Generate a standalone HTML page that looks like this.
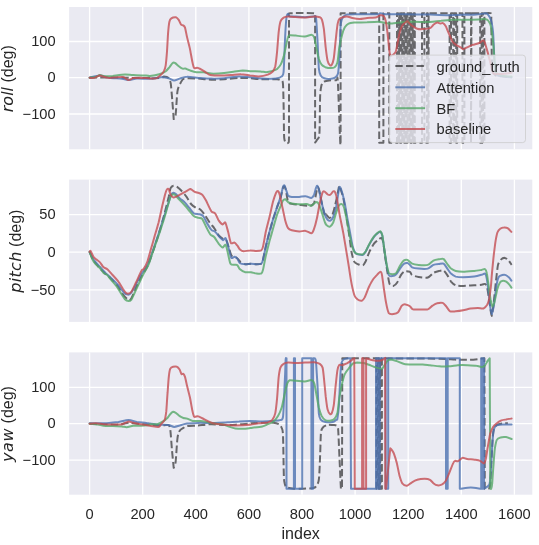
<!DOCTYPE html>
<html><head><meta charset="utf-8"><title>plot</title>
<style>
html,body{margin:0;padding:0;background:#fff}
svg text{font-family:"Liberation Sans",sans-serif;fill:#262626}
.t{font-size:14.67px}
.l{font-size:16px}
.m{font-family:"DejaVu Sans",sans-serif;font-style:italic}
</style></head><body>
<svg width="539" height="545" viewBox="0 0 539 545" style="display:block">
<rect width="539" height="545" fill="#fff"/>
<clipPath id="c0"><rect x="69.1" y="7.0" width="463.2" height="142.3"/></clipPath>
<rect x="69.1" y="7.0" width="463.2" height="142.3" fill="#EAEAF2"/>
<path d="M89.6,7.0 V149.3 M142.7,7.0 V149.3 M195.8,7.0 V149.3 M248.9,7.0 V149.3 M302.0,7.0 V149.3 M355.1,7.0 V149.3 M408.2,7.0 V149.3 M461.3,7.0 V149.3 M514.4,7.0 V149.3 M69.1,41.5 H532.3 M69.1,77.7 H532.3 M69.1,114.0 H532.3" stroke="#fff" stroke-width="1.33" fill="none"/>
<text x="55.6" y="46.25" text-anchor="end" class="t">100</text>
<text x="55.6" y="82.45" text-anchor="end" class="t">0</text>
<text x="55.6" y="118.75" text-anchor="end" class="t">−100</text>
<g clip-path="url(#c0)" fill="none" stroke-width="2.0" stroke-linejoin="round" stroke-linecap="butt">
<path d="M89.6,77.7 C91.4,77.7 99.5,77.4 103.6,77.4 C107.6,77.4 117.5,77.6 122.1,77.7 C126.7,77.8 137.2,78.1 140.7,78.1 C144.1,78.1 148.8,77.8 149.9,77.9 C151.1,78.0 148.6,78.6 150.0,78.6 C151.4,78.6 159.4,78.1 161.1,77.9 C162.9,77.6 163.0,76.4 163.9,76.4 C164.8,76.4 167.7,76.9 168.6,77.9 C169.4,78.8 170.3,81.0 170.8,83.8 C171.2,86.6 171.9,96.1 172.3,100.5 C172.6,104.9 173.6,116.7 173.7,119.1 L173.7,119.1 C174.0,118.6 175.1,118.8 175.6,115.3 C176.1,111.9 176.8,95.3 177.5,91.2 C178.1,87.2 179.8,84.5 180.6,82.9 C181.5,81.3 182.1,79.1 184.3,78.6 C186.5,78.1 194.9,78.5 198.2,78.6 C201.6,78.7 208.0,79.7 211.2,79.7 C214.5,79.8 220.7,79.4 224.2,79.2 C227.7,78.9 235.8,78.0 239.1,77.9 C242.3,77.8 247.6,78.1 250.0,78.2 C252.4,78.4 255.1,79.0 258.5,79.1 C261.9,79.2 274.3,79.1 277.1,79.3 C279.9,79.5 280.5,79.8 281.2,80.4 C281.9,81.0 282.7,79.7 283.0,84.1 C283.3,88.5 283.7,109.0 283.8,115.7 C283.9,122.4 283.9,134.5 284.2,137.9 C284.5,141.3 285.4,142.3 286.0,142.9 C286.6,143.5 288.2,143.1 288.6,142.5 C289.0,141.9 288.9,138.5 289.0,137.9 L289.0,16.0 C289.1,15.7 287.0,13.6 290.1,13.3 C293.2,13.0 311.1,13.0 314.2,13.3 C317.3,13.7 315.0,15.8 315.1,16.1 L315.1,142.6 C315.3,142.2 316.5,140.9 317.0,139.8 C317.5,138.8 319.0,139.5 319.4,134.2 C319.8,128.9 319.9,103.1 320.1,97.1 C320.3,91.1 320.9,87.9 321.3,86.0 C321.7,84.1 322.5,82.6 323.5,81.9 C324.5,81.2 327.5,80.6 329.1,80.4 C330.7,80.2 335.4,80.1 336.5,80.2 C337.6,80.3 337.3,73.6 337.8,81.3 C338.3,89.0 339.8,133.9 340.2,141.6 C340.6,149.3 340.6,142.5 340.6,142.6 L340.6,13.3 C345.4,13.3 374.4,13.3 379.2,13.3 L379.2,142.7 C379.7,142.7 382.9,142.7 383.4,142.7 L383.4,13.3 C384.1,13.3 388.6,13.3 389.3,13.3 L389.3,142.7 C390.3,142.7 396.0,142.7 397.0,142.7 L397.0,13.3 C397.1,13.3 397.9,13.3 398.1,13.3 L398.1,142.7 C398.2,142.7 399.0,142.7 399.1,142.7 L399.1,13.3 C399.2,13.3 400.0,13.3 400.1,13.3 L400.1,142.7 C400.3,142.7 401.1,142.7 401.2,142.7 L401.2,13.3 C401.3,13.3 402.1,13.3 402.2,13.3 L402.2,142.7 C402.4,142.7 403.1,142.7 403.3,142.7 L403.3,13.3 C403.4,13.3 404.2,13.3 404.3,13.3 L404.3,142.7 C404.5,142.7 405.2,142.7 405.4,142.7 L405.4,13.3 C405.5,13.3 406.3,13.3 406.4,13.3 L406.4,142.7 C406.6,142.7 407.3,142.7 407.5,142.7 L407.5,13.3 C407.6,13.3 408.4,13.3 408.5,13.3 L408.5,142.7 C408.6,142.7 409.4,142.7 409.6,142.7 L409.6,13.3 C409.7,13.3 410.5,13.3 410.6,13.3 L410.6,142.7 C410.7,142.7 411.5,142.7 411.7,142.7 L411.7,13.3 C411.8,13.3 412.6,13.3 412.7,13.3 L412.7,142.7 C412.8,142.7 413.6,142.7 413.8,142.7 L413.8,13.3 C413.9,13.3 414.7,13.3 414.8,13.3 L414.8,142.7 C415.7,142.7 421.1,142.7 422.0,142.7 L422.0,13.3 C422.3,13.3 424.1,13.3 424.4,13.3 L424.4,142.7 C424.7,142.7 426.7,142.7 427.0,142.7 L427.0,13.3 C427.1,13.3 427.7,13.3 427.8,13.3 L427.8,142.7 C427.9,142.7 428.5,142.7 428.6,142.7 L428.6,13.3 C431.2,13.3 447.0,13.3 449.6,13.3 L449.6,142.7 C449.8,142.7 450.8,142.7 451.0,142.7 L451.0,13.3 C451.3,13.3 452.9,13.3 453.2,13.3 L453.2,142.7 C453.3,142.7 454.1,142.7 454.2,142.7 L454.2,13.3 C454.4,13.3 455.9,13.3 456.2,13.3 L456.2,142.7 C456.3,142.7 457.1,142.7 457.2,142.7 L457.2,13.3 C457.8,13.3 461.8,13.3 462.4,13.3 L462.4,142.7 C462.6,142.7 464.1,142.7 464.4,142.7 L464.4,13.3 C465.2,13.3 470.2,13.3 471.0,13.3 L471.0,142.7 L471.5,13.3 C472.6,13.3 479.1,13.3 480.2,13.3 L480.2,142.7 C480.4,142.7 481.4,142.7 481.6,142.7 L481.6,13.3 C481.8,13.3 482.8,13.3 483.0,13.3 L483.0,142.7 C483.2,142.7 484.2,142.7 484.4,142.7 L484.4,13.3 C485.2,13.3 489.9,12.5 490.8,13.3 C491.7,14.1 491.2,16.0 491.3,20.0 C491.4,24.0 491.5,39.5 491.6,45.0 C491.7,50.5 491.8,60.6 492.0,64.0 C492.2,67.4 492.5,70.6 493.0,72.0 C493.5,73.4 494.8,74.9 496.0,75.5 C497.2,76.1 501.0,76.3 503.0,76.5 C505.0,76.7 510.6,76.9 511.7,77.0" stroke="#000000" stroke-dasharray="7.4,3.2" opacity="0.56"/>
<path d="M89.6,77.7 C90.9,77.4 97.4,75.5 99.8,75.5 C102.3,75.5 106.3,77.3 109.1,77.7 C111.9,78.1 119.6,78.5 122.1,78.8 C124.7,79.1 127.7,80.2 129.5,80.1 C131.4,80.1 134.4,78.6 136.9,78.5 C139.5,78.3 146.9,79.0 149.9,78.8 C153.0,78.7 158.8,77.4 161.1,77.3 C163.5,77.2 166.9,77.8 168.6,78.2 C170.2,78.6 172.7,80.4 174.1,80.5 C175.5,80.5 178.1,79.1 179.7,78.6 C181.3,78.1 184.8,76.8 187.1,76.8 C189.4,76.7 195.2,77.6 198.2,77.9 C201.3,78.1 208.0,78.6 211.2,78.6 C214.5,78.7 220.7,78.5 224.2,78.2 C227.7,78.0 235.8,76.5 239.1,76.4 C242.3,76.3 247.6,77.1 250.0,77.3 C252.4,77.5 256.3,78.1 258.6,78.3 C260.8,78.5 265.5,78.8 267.8,78.8 C270.1,78.8 275.4,78.6 277.1,78.3 C278.8,78.0 280.9,77.2 281.7,76.4 C282.6,75.6 283.2,76.1 283.6,71.8 C284.0,67.5 284.6,48.8 284.9,42.1 C285.2,35.4 286.0,21.5 286.4,18.0 C286.8,14.5 287.4,14.1 287.9,13.9 C288.3,13.7 288.7,16.2 289.7,16.5 C290.7,16.8 293.8,16.4 295.7,16.5 C297.6,16.6 302.6,17.2 304.9,17.2 C307.3,17.2 312.8,16.4 314.2,16.5 C315.6,16.6 315.6,14.8 316.1,18.0 C316.5,21.2 317.2,35.8 317.6,42.1 C317.9,48.4 318.5,63.9 318.8,68.1 C319.2,72.3 320.0,74.2 320.7,75.5 C321.4,76.8 323.1,77.9 324.4,78.3 C325.7,78.7 329.5,79.0 330.9,78.8 C332.3,78.7 334.7,78.0 335.5,77.4 C336.4,76.7 337.5,75.7 338.0,73.6 C338.4,71.6 339.0,64.6 339.3,60.7 C339.5,56.7 339.8,46.7 340.0,42.1 C340.2,37.5 340.4,26.7 340.8,23.6 C341.1,20.4 342.2,18.2 343.0,17.1 C343.7,15.9 345.3,15.0 346.7,14.6 C348.1,14.3 351.6,14.3 354.1,14.3 C356.7,14.2 364.1,14.3 367.1,14.3 C370.1,14.3 376.6,14.4 378.2,14.3 C379.9,14.2 379.2,13.3 380.1,13.3 C381.0,13.3 382.6,14.2 385.7,14.3 C388.7,14.4 398.7,14.2 404.2,14.3 C409.8,14.3 424.5,14.5 430.0,14.6 C435.5,14.8 443.9,15.2 448.6,15.2 C453.2,15.2 463.6,14.7 467.1,14.6 C470.6,14.6 474.1,14.8 476.4,14.6 C478.7,14.5 484.2,13.3 485.7,13.3 C487.2,13.4 487.7,14.3 488.4,15.2 C489.1,16.1 490.6,18.6 491.2,20.8 C491.8,23.0 492.7,29.0 493.1,32.8 C493.4,36.7 493.8,47.0 494.0,51.4 C494.2,55.8 494.5,65.1 494.9,68.1 C495.4,71.1 496.6,74.5 497.7,75.5 C498.9,76.5 502.5,76.2 504.2,76.4 C506.0,76.7 510.7,77.2 511.6,77.4" stroke="#4C72B0" stroke-linecap="round" opacity="0.8"/>
<path d="M89.6,77.7 C90.4,77.6 94.9,77.3 96.1,77.0 C97.4,76.7 98.7,75.2 99.8,75.1 C101.0,75.0 103.8,76.2 105.4,76.2 C107.0,76.3 110.4,76.1 112.8,75.9 C115.3,75.6 122.3,74.5 124.9,74.4 C127.4,74.3 130.6,75.0 133.2,75.1 C135.9,75.3 144.1,75.4 146.2,75.5 C148.3,75.6 148.4,76.2 150.0,76.0 C151.6,75.8 157.3,74.8 159.3,74.2 C161.2,73.6 164.5,72.1 165.8,71.2 C167.0,70.3 168.6,68.1 169.5,67.1 C170.3,66.1 171.9,63.5 172.6,63.0 C173.3,62.5 174.3,62.6 175.0,63.0 C175.8,63.4 177.8,65.5 178.8,66.2 C179.7,66.9 181.7,68.3 182.5,68.6 C183.3,68.9 184.3,68.4 185.3,68.6 C186.2,68.8 188.5,70.0 189.9,70.4 C191.3,70.9 194.6,72.1 196.4,72.3 C198.1,72.5 201.9,72.1 203.8,72.3 C205.7,72.5 208.7,73.5 211.2,73.6 C213.8,73.7 221.4,73.3 224.2,73.0 C227.0,72.8 231.2,72.1 233.5,71.7 C235.8,71.4 240.7,70.5 242.8,70.4 C244.8,70.4 247.8,71.1 250.0,71.2 C252.2,71.3 258.4,71.3 260.4,71.4 C262.4,71.5 264.5,72.2 266.0,72.2 C267.5,72.1 271.1,71.3 272.5,70.9 C273.9,70.5 276.1,69.8 277.1,69.0 C278.1,68.2 280.0,65.9 280.8,64.4 C281.6,62.9 282.9,59.3 283.6,56.9 C284.2,54.6 285.5,48.3 286.0,45.8 C286.5,43.4 287.4,38.8 287.9,37.5 C288.3,36.1 288.7,35.5 289.7,35.2 C290.7,35.0 293.8,35.4 295.7,35.6 C297.6,35.8 303.0,36.7 304.9,36.5 C306.9,36.4 310.3,34.6 311.4,34.7 C312.6,34.8 313.6,35.8 314.2,37.5 C314.8,39.1 315.9,45.0 316.4,47.7 C317.0,50.3 318.2,56.7 318.8,58.8 C319.5,60.9 320.8,63.7 321.6,64.7 C322.4,65.8 324.2,66.7 325.3,67.2 C326.5,67.6 329.7,68.1 330.9,68.1 C332.1,68.1 333.8,67.8 334.6,67.2 C335.4,66.5 336.8,64.9 337.4,62.5 C338.0,60.1 338.7,51.2 339.3,47.7 C339.9,44.2 341.4,37.2 342.1,34.7 C342.8,32.1 344.0,28.7 344.8,27.3 C345.7,25.9 347.4,24.1 348.6,23.6 C349.7,23.0 351.8,22.8 354.1,22.6 C356.4,22.5 364.1,22.4 367.1,22.3 C370.1,22.1 376.2,21.7 378.2,21.7 C380.3,21.7 382.2,22.4 383.8,22.6 C385.4,22.9 388.7,23.6 391.2,23.6 C393.8,23.5 401.4,22.3 404.2,22.1 C407.0,21.8 410.3,21.7 413.5,21.7 C416.7,21.7 426.5,22.2 430.0,22.1 C433.5,22.0 438.3,21.0 441.1,20.8 C443.9,20.5 449.0,20.0 452.3,19.8 C455.5,19.7 463.9,19.9 467.1,19.8 C470.4,19.8 476.0,19.6 478.2,19.5 C480.4,19.4 483.5,18.8 484.7,18.9 C486.0,19.1 487.7,19.8 488.4,20.8 C489.2,21.7 490.3,24.1 490.9,26.3 C491.4,28.5 492.3,35.0 492.7,38.4 C493.1,41.8 493.8,50.0 494.0,53.2 C494.3,56.5 494.6,62.2 494.7,64.4 C494.9,66.6 495.2,69.7 495.5,70.9 C495.8,72.0 496.5,73.1 497.2,73.6 C497.8,74.2 499.6,74.9 500.5,75.1 C501.4,75.4 502.8,75.7 504.2,75.9 C505.6,76.1 510.7,76.5 511.6,76.6" stroke="#55A868" stroke-linecap="round" opacity="0.8"/>
<path d="M89.6,77.7 C90.2,77.8 93.0,78.2 94.3,77.9 C95.6,77.6 98.7,75.6 99.8,75.5 C101.0,75.4 102.4,76.5 103.6,76.8 C104.7,77.1 107.5,77.8 109.1,77.9 C110.7,78.0 114.8,77.5 116.5,77.4 C118.3,77.2 121.5,76.7 123.0,77.0 C124.5,77.3 127.3,79.8 128.6,80.0 C129.9,80.1 131.7,78.4 133.2,78.1 C134.7,77.8 138.6,77.7 140.7,77.7 C142.7,77.8 148.0,78.4 149.9,78.5 C151.9,78.5 155.2,78.5 156.4,78.1 C157.7,77.7 159.2,76.3 160.1,75.5 C161.1,74.7 163.2,72.7 163.8,71.4 C164.5,70.1 165.3,67.8 165.7,65.3 C166.1,62.8 166.7,55.4 167.0,51.4 C167.3,47.3 167.8,36.5 168.1,32.8 C168.4,29.1 169.0,23.5 169.4,21.7 C169.8,19.9 170.5,18.9 171.3,18.4 C172.1,17.8 175.0,17.1 175.9,17.2 C176.8,17.4 178.0,18.9 178.7,19.8 C179.3,20.8 180.5,24.0 181.1,24.7 C181.7,25.4 182.8,25.0 183.3,25.4 C183.8,25.8 184.5,26.1 185.0,27.6 C185.5,29.1 186.5,34.8 187.1,37.4 C187.7,40.0 189.2,45.5 189.9,48.6 C190.5,51.6 191.8,59.1 192.3,61.5 C192.8,64.0 193.5,67.3 194.2,68.0 C194.8,68.8 196.5,67.5 197.3,67.7 C198.2,67.8 200.0,68.8 201.0,69.3 C202.1,69.9 204.5,71.6 205.7,72.3 C206.8,73.0 208.4,74.5 210.3,74.9 C212.2,75.3 217.8,75.6 220.5,75.6 C223.2,75.6 229.1,75.1 231.6,74.9 C234.2,74.7 238.6,74.1 240.9,74.2 C243.2,74.2 247.8,75.2 250.0,75.5 C252.2,75.7 256.3,76.5 258.6,76.4 C260.8,76.3 266.1,75.2 267.8,74.6 C269.6,74.0 271.5,72.8 272.5,71.8 C273.4,70.7 274.7,68.8 275.3,66.2 C275.8,63.7 276.7,55.6 277.1,51.4 C277.5,47.2 278.2,36.5 278.6,32.8 C279.0,29.1 279.8,23.6 280.4,21.7 C281.1,19.8 282.6,18.3 283.6,17.6 C284.6,17.0 286.7,16.6 288.2,16.5 C289.7,16.4 293.6,16.9 295.7,17.1 C297.7,17.2 302.6,17.7 304.9,17.6 C307.3,17.5 312.4,16.5 314.2,16.5 C316.1,16.5 318.8,16.8 319.8,17.2 C320.8,17.7 321.5,18.4 322.0,19.8 C322.5,21.3 323.4,25.6 323.9,29.1 C324.3,32.6 325.3,43.7 325.7,47.7 C326.2,51.6 327.0,58.5 327.6,60.7 C328.1,62.9 329.4,64.8 330.0,65.3 C330.5,65.8 331.4,65.6 331.8,64.7 C332.3,63.9 333.2,61.6 333.7,58.8 C334.2,56.0 335.1,46.3 335.5,42.1 C336.0,37.9 336.9,28.3 337.4,25.4 C337.9,22.5 338.1,20.0 339.3,18.9 C340.4,17.8 345.1,16.6 346.7,16.5 C348.3,16.4 350.6,17.7 352.3,18.0 C353.9,18.3 357.8,18.9 359.7,18.9 C361.5,18.9 365.0,18.2 367.1,18.0 C369.2,17.8 374.8,17.6 376.4,17.2 C378.0,16.9 379.2,15.3 380.1,15.2 C381.0,15.1 383.1,15.4 383.8,16.1 C384.5,16.8 385.2,18.7 385.7,20.8 C386.1,22.9 387.1,29.5 387.5,32.8 C387.9,36.2 388.7,44.8 389.0,47.7 C389.3,50.5 389.8,54.6 390.3,55.5 C390.8,56.3 392.4,55.2 393.1,54.7 C393.8,54.2 395.3,53.0 395.9,51.4 C396.4,49.8 397.3,44.4 397.7,42.1 C398.2,39.8 399.0,34.9 399.6,32.8 C400.2,30.7 401.4,26.8 402.4,25.4 C403.3,24.0 406.2,21.7 407.0,21.3 C407.8,21.0 408.3,22.1 408.8,22.6 C409.4,23.1 410.6,24.6 411.6,25.4 C412.7,26.2 415.8,28.3 417.2,28.7 C418.6,29.2 421.2,29.2 422.8,29.1 C424.4,29.0 428.6,28.8 430.0,28.2 C431.4,27.6 432.8,25.2 433.7,24.5 C434.6,23.8 436.6,22.7 437.4,22.6 C438.2,22.5 439.5,23.5 440.2,23.6 C440.9,23.6 442.3,22.8 443.0,23.2 C443.7,23.5 445.1,25.1 445.8,26.3 C446.5,27.5 447.7,31.0 448.6,32.8 C449.4,34.7 451.3,39.7 452.3,41.2 C453.2,42.7 454.9,44.1 456.0,44.9 C457.0,45.7 459.7,46.8 460.6,47.3 C461.5,47.8 462.6,49.2 463.4,49.2 C464.2,49.2 465.9,47.8 467.1,47.3 C468.3,46.8 471.2,45.4 472.7,44.9 C474.2,44.4 477.9,43.6 479.2,43.0 C480.4,42.5 482.2,40.7 482.9,40.6 C483.6,40.5 484.3,41.1 484.7,42.1 C485.2,43.1 486.1,47.0 486.6,48.6 C487.1,50.2 488.0,53.4 488.4,55.1 C488.9,56.8 489.8,60.5 490.3,62.5 C490.8,64.5 491.7,69.5 492.2,70.9 C492.6,72.3 493.0,73.3 494.0,73.6 C495.1,74.0 498.3,74.1 500.5,74.0 C502.7,73.9 510.2,72.9 511.6,72.7" stroke="#C44E52" stroke-linecap="round" opacity="0.8"/>
</g>
<text transform="translate(12.8,78.7) rotate(-90)" text-anchor="middle" class="l"><tspan class="m" letter-spacing="0">roll</tspan> (deg)</text>
<clipPath id="c1"><rect x="69.1" y="179.6" width="463.2" height="142.3"/></clipPath>
<rect x="69.1" y="179.6" width="463.2" height="142.3" fill="#EAEAF2"/>
<path d="M89.6,179.6 V321.9 M142.7,179.6 V321.9 M195.8,179.6 V321.9 M248.9,179.6 V321.9 M302.0,179.6 V321.9 M355.1,179.6 V321.9 M408.2,179.6 V321.9 M461.3,179.6 V321.9 M514.4,179.6 V321.9 M69.1,214.6 H532.3 M69.1,252.2 H532.3 M69.1,289.8 H532.3" stroke="#fff" stroke-width="1.33" fill="none"/>
<text x="55.6" y="219.35" text-anchor="end" class="t">50</text>
<text x="55.6" y="256.95" text-anchor="end" class="t">0</text>
<text x="55.6" y="294.55" text-anchor="end" class="t">−50</text>
<g clip-path="url(#c1)" fill="none" stroke-width="2.0" stroke-linejoin="round" stroke-linecap="butt">
<path d="M89.6,251.9 C90.0,252.8 91.7,257.5 92.8,259.3 C93.8,261.1 96.5,264.5 98.0,266.2 C99.4,267.9 102.9,271.3 104.5,272.9 C106.1,274.4 109.4,277.2 111.0,278.8 C112.6,280.4 116.0,283.9 117.5,285.9 C119.0,287.8 121.6,292.8 123.0,294.6 C124.4,296.4 127.6,299.7 128.6,300.1 C129.6,300.6 130.6,299.6 131.4,298.3 C132.2,297.0 133.9,292.5 135.1,289.9 C136.3,287.4 139.0,281.1 140.7,277.9 C142.3,274.7 146.1,269.7 148.3,264.3 C150.6,258.9 156.6,240.7 158.6,234.6 C160.5,228.4 162.8,219.9 164.1,215.1 C165.4,210.4 167.9,199.9 168.8,196.6 C169.6,193.2 170.0,189.5 170.6,188.2 C171.2,186.9 172.6,186.0 173.4,185.8 C174.2,185.6 176.1,186.3 177.1,186.9 C178.1,187.6 180.6,189.8 181.7,191.0 C182.9,192.2 185.2,194.9 186.4,196.6 C187.5,198.2 189.9,202.6 191.0,204.0 C192.2,205.4 194.5,207.0 195.7,207.7 C196.8,208.4 199.1,208.6 200.3,209.5 C201.5,210.5 203.8,213.5 204.9,215.1 C206.1,216.7 208.4,220.9 209.6,222.5 C210.7,224.2 213.1,226.5 214.2,228.1 C215.4,229.7 217.7,234.1 218.8,235.5 C220.0,236.9 222.6,238.6 223.5,239.2 C224.4,239.8 225.6,239.0 226.3,240.2 C227.0,241.3 228.4,246.5 229.1,248.5 C229.7,250.5 230.9,254.8 231.8,255.9 C232.8,257.1 235.5,257.1 236.5,257.8 C237.5,258.5 239.5,260.9 240.0,261.5 C240.5,262.1 240.1,262.1 240.8,262.4 C241.4,262.8 244.1,264.1 245.4,264.3 C246.7,264.4 249.6,263.7 251.0,263.7 C252.4,263.7 255.3,264.3 256.5,264.3 C257.8,264.3 260.4,264.3 261.2,263.7 C262.0,263.1 262.5,261.8 263.0,259.6 C263.6,257.5 265.0,250.1 265.8,246.6 C266.6,243.2 268.6,235.3 269.5,231.8 C270.5,228.3 272.3,221.8 273.2,218.8 C274.2,215.8 276.0,210.4 276.9,207.7 C277.9,205.0 279.9,199.9 280.7,197.5 C281.4,195.0 282.4,189.6 282.9,188.2 C283.3,186.8 284.0,186.1 284.4,186.3 C284.7,186.6 285.5,188.6 285.9,190.1 C286.2,191.6 286.9,196.8 287.3,198.4 C287.7,200.0 287.5,202.2 289.0,203.0 C290.5,203.9 296.5,204.6 299.2,204.9 C301.9,205.2 308.5,206.1 310.3,205.8 C312.2,205.6 313.4,204.4 314.1,203.0 C314.7,201.7 315.5,196.7 315.9,194.7 C316.3,192.7 317.0,188.0 317.4,187.3 C317.8,186.6 318.5,188.0 318.9,189.1 C319.3,190.3 320.1,194.5 320.5,196.6 C321.0,198.6 321.8,203.4 322.4,205.8 C323.0,208.3 324.6,215.0 325.0,216.0 C325.4,217.1 325.2,213.9 325.8,214.2 C326.3,214.4 328.7,217.8 329.5,217.9 C330.3,218.0 331.6,216.6 332.3,215.1 C333.0,213.6 334.4,208.6 335.0,205.8 C335.7,203.0 337.3,195.3 337.8,192.8 C338.4,190.3 338.9,186.0 339.3,185.8 C339.7,185.6 340.7,189.4 341.2,191.0 C341.7,192.6 342.8,195.4 343.4,198.4 C344.0,201.4 345.5,210.7 346.2,215.1 C346.9,219.5 348.3,228.9 349.0,233.7 C349.7,238.4 351.0,249.3 351.7,252.8 C352.4,256.4 353.7,260.7 354.5,262.1 C355.3,263.5 357.2,263.9 358.2,264.3 C359.3,264.7 361.9,265.8 362.9,265.4 C363.8,265.1 364.8,262.9 365.7,261.2 C366.5,259.5 368.3,254.1 369.4,251.9 C370.4,249.7 373.0,245.0 374.0,243.6 C375.1,242.1 376.8,240.9 377.7,240.2 C378.6,239.5 380.7,237.7 381.4,238.0 C382.1,238.3 382.8,240.3 383.3,242.6 C383.7,244.9 384.6,252.7 385.1,256.5 C385.7,260.4 387.0,269.8 387.6,273.2 C388.1,276.7 389.0,282.8 389.8,284.4 C390.5,285.9 392.6,286.1 393.5,285.9 C394.4,285.6 396.3,283.9 397.2,282.5 C398.1,281.2 400.0,276.5 400.9,275.1 C401.8,273.7 403.5,271.8 404.6,271.4 C405.8,271.0 409.1,271.3 410.0,271.8 C410.9,272.2 411.0,274.4 412.1,275.1 C413.1,275.7 416.6,276.6 418.6,276.9 C420.5,277.2 426.0,278.0 427.8,277.5 C429.7,277.0 432.0,273.7 433.4,272.9 C434.8,272.1 437.7,271.3 439.0,271.0 C440.2,270.7 442.6,269.9 443.6,270.5 C444.6,271.0 446.4,273.7 447.3,275.1 C448.2,276.5 450.0,280.3 451.0,281.6 C452.1,282.9 454.2,284.8 455.7,285.3 C457.2,285.8 460.8,285.9 463.1,285.9 C465.4,285.9 471.9,285.4 474.2,285.3 C476.5,285.2 480.2,284.9 481.6,284.7 C483.0,284.6 484.6,283.6 485.3,284.0 C486.0,284.4 486.7,286.2 487.2,288.1 C487.7,290.0 488.6,296.2 489.1,299.2 C489.5,302.2 490.6,310.1 490.9,312.2 C491.3,314.3 491.7,315.4 491.8,315.9 L491.8,315.9 C492.1,314.3 493.2,307.4 493.7,302.9 C494.2,298.4 495.6,284.5 496.1,279.8 C496.7,275.0 497.4,267.5 498.0,264.9 C498.6,262.4 500.3,260.3 501.2,259.4 C502.0,258.5 503.9,257.8 504.9,257.9 C505.8,258.0 507.7,259.4 508.6,260.3 C509.4,261.2 511.3,264.4 511.7,264.9" stroke="#000000" stroke-dasharray="7.4,3.2" opacity="0.56"/>
<path d="M89.6,251.9 C90.1,252.8 92.1,257.5 93.3,259.3 C94.6,261.2 98.3,265.1 99.8,266.7 C101.3,268.4 104.0,271.5 105.4,272.9 C106.8,274.3 109.4,276.3 111.0,277.9 C112.6,279.4 116.8,283.4 118.4,285.3 C120.0,287.2 122.8,291.6 124.0,292.7 C125.1,293.9 126.9,294.5 127.7,294.6 C128.5,294.7 129.5,294.7 130.5,293.6 C131.4,292.6 133.8,288.5 135.1,286.2 C136.4,283.9 139.0,278.0 140.7,275.1 C142.3,272.2 146.1,268.5 148.3,263.3 C150.6,258.2 156.1,241.0 158.6,233.7 C161.0,226.4 166.3,209.8 167.8,204.9 C169.4,200.0 170.5,196.2 171.2,194.7 C171.9,193.2 172.8,192.9 173.4,192.8 C174.0,192.8 175.4,193.6 176.2,194.3 C177.0,195.0 178.8,197.4 179.9,198.4 C180.9,199.4 183.4,201.0 184.5,202.1 C185.7,203.3 188.0,206.3 189.2,207.7 C190.3,209.1 192.5,212.4 193.8,213.3 C195.1,214.1 198.2,213.8 199.4,214.2 C200.5,214.5 202.0,214.8 203.1,216.0 C204.1,217.3 206.7,222.6 207.7,224.4 C208.8,226.1 210.5,229.0 211.4,229.9 C212.4,230.9 214.1,230.9 215.1,231.8 C216.2,232.7 218.8,236.3 219.8,237.4 C220.8,238.4 222.4,240.0 223.1,240.2 C223.9,240.3 225.0,237.3 225.7,238.3 C226.4,239.3 228.0,246.1 228.7,248.5 C229.4,250.9 230.5,256.7 231.3,257.8 C232.0,258.8 233.9,256.7 234.6,256.8 C235.4,257.0 236.7,257.9 237.4,258.7 C238.1,259.5 239.0,262.6 240.0,263.3 C241.0,264.0 244.0,264.2 245.4,264.3 C246.8,264.3 249.6,263.7 251.0,263.7 C252.4,263.7 255.3,264.3 256.5,264.3 C257.8,264.3 260.4,264.3 261.2,263.7 C262.0,263.1 262.5,261.8 263.0,259.6 C263.6,257.5 265.0,250.1 265.8,246.6 C266.6,243.2 268.6,235.3 269.5,231.8 C270.5,228.3 272.3,221.8 273.2,218.8 C274.2,215.8 276.0,210.5 276.9,207.7 C277.9,204.9 279.9,199.1 280.7,196.6 C281.4,194.0 282.4,188.7 282.9,187.3 C283.3,185.9 284.0,185.1 284.4,185.4 C284.8,185.8 285.8,188.8 286.2,190.1 C286.7,191.3 287.4,194.8 288.1,195.6 C288.8,196.5 290.4,196.8 291.8,196.9 C293.2,197.1 297.5,197.0 299.2,196.9 C301.0,196.8 304.2,196.0 305.7,196.2 C307.2,196.3 310.2,198.2 311.3,198.0 C312.3,197.9 313.5,195.9 314.1,194.7 C314.6,193.5 315.5,189.3 315.9,188.2 C316.3,187.1 317.0,185.4 317.4,185.8 C317.8,186.1 318.7,188.9 319.2,191.0 C319.8,193.0 320.8,199.1 321.5,202.1 C322.2,205.1 324.2,212.9 325.0,215.1 C325.8,217.3 326.9,219.0 327.6,219.7 C328.3,220.4 329.7,221.0 330.4,220.7 C331.1,220.3 332.5,218.6 333.2,217.0 C333.9,215.3 335.4,210.2 336.0,207.7 C336.6,205.1 337.4,199.1 337.8,196.6 C338.2,194.0 339.0,188.3 339.3,187.3 C339.7,186.2 340.2,187.4 340.6,188.2 C341.0,189.0 341.9,191.8 342.5,193.8 C343.0,195.7 344.3,201.1 344.9,204.0 C345.5,206.9 346.5,213.5 347.1,217.0 C347.7,220.4 349.2,228.1 349.9,231.8 C350.6,235.5 352.0,244.0 352.7,246.6 C353.4,249.3 354.8,252.2 355.5,253.1 C356.2,254.1 357.3,254.2 358.2,254.4 C359.2,254.6 361.9,255.2 362.9,254.8 C363.8,254.5 364.8,253.0 365.7,251.7 C366.5,250.3 368.3,246.1 369.4,244.2 C370.4,242.4 373.0,238.2 374.0,236.8 C375.1,235.4 376.9,233.7 377.7,233.1 C378.5,232.5 379.9,231.5 380.5,231.8 C381.1,232.2 381.9,233.8 382.4,235.9 C382.8,238.0 383.7,245.4 384.2,248.9 C384.7,252.4 385.9,260.4 386.4,263.7 C387.0,267.0 388.1,273.6 388.8,275.1 C389.6,276.6 391.6,276.1 392.6,276.0 C393.5,275.9 395.3,275.1 396.3,274.2 C397.2,273.2 399.1,269.9 400.0,268.6 C400.9,267.3 402.8,264.7 403.7,264.0 C404.6,263.3 406.6,262.9 407.4,263.0 C408.2,263.1 409.4,264.4 410.0,264.9 C410.6,265.4 411.0,266.8 412.1,267.3 C413.1,267.8 416.6,268.4 418.6,268.6 C420.5,268.8 426.0,269.1 427.8,268.6 C429.7,268.1 432.0,265.5 433.4,264.9 C434.8,264.3 437.7,264.1 439.0,264.0 C440.2,263.8 442.6,263.0 443.6,263.6 C444.6,264.2 446.4,267.3 447.3,268.6 C448.2,269.9 450.0,272.6 451.0,273.6 C452.1,274.6 454.2,276.1 455.7,276.6 C457.2,277.0 460.8,277.3 463.1,277.3 C465.4,277.3 471.9,276.9 474.2,276.6 C476.5,276.3 480.3,275.1 481.6,274.7 C483.0,274.4 484.3,273.1 485.0,273.6 C485.6,274.1 486.4,276.3 486.8,278.8 C487.3,281.3 488.2,289.9 488.7,293.6 C489.1,297.4 490.1,305.9 490.5,308.5 C490.9,311.0 491.7,313.4 491.8,314.1 L491.8,314.1 C492.1,313.1 493.1,310.2 493.7,306.6 C494.3,303.0 495.9,289.0 496.5,285.3 C497.1,281.6 498.0,278.3 498.7,277.0 C499.4,275.7 501.2,275.4 502.1,275.1 C503.0,274.9 504.9,274.8 505.8,275.1 C506.7,275.4 508.4,276.9 509.1,277.6 C509.8,278.2 511.1,280.3 511.4,280.7" stroke="#4C72B0" stroke-linecap="round" opacity="0.8"/>
<path d="M89.6,251.9 C90.0,252.8 91.7,257.9 92.4,259.3 C93.1,260.8 94.3,262.5 95.2,263.6 C96.1,264.7 98.8,266.9 99.8,268.0 C100.9,269.2 102.6,272.0 103.6,272.9 C104.5,273.7 106.3,274.2 107.3,275.1 C108.2,276.0 109.8,278.3 111.0,279.7 C112.1,281.1 115.3,284.5 116.5,286.2 C117.8,288.0 120.1,292.0 121.2,293.6 C122.2,295.3 124.0,298.3 124.9,299.2 C125.8,300.1 127.8,301.0 128.6,301.1 C129.4,301.1 130.6,300.7 131.4,299.6 C132.2,298.4 133.9,294.3 135.1,291.8 C136.3,289.3 139.6,282.0 140.7,279.7 C141.7,277.5 142.7,275.4 143.7,273.5 C144.7,271.7 147.2,268.0 148.3,265.2 C149.5,262.4 151.7,255.0 153.0,251.3 C154.3,247.6 157.2,239.6 158.6,235.5 C159.9,231.5 163.0,222.5 164.1,218.8 C165.3,215.1 167.0,208.6 167.8,205.8 C168.6,203.0 170.0,198.0 170.6,196.6 C171.3,195.1 172.4,194.5 173.0,194.3 C173.6,194.1 174.5,194.4 175.3,195.1 C176.0,195.7 177.9,198.2 179.0,199.3 C180.0,200.4 182.4,202.7 183.6,204.0 C184.8,205.2 187.0,208.0 188.2,209.5 C189.5,211.0 192.5,215.0 193.8,216.0 C195.1,217.1 197.4,217.5 198.4,217.9 C199.5,218.2 201.1,217.5 202.2,218.8 C203.2,220.1 205.7,226.1 206.8,228.1 C207.8,230.1 209.6,233.5 210.5,234.6 C211.4,235.7 213.2,235.8 214.2,237.0 C215.3,238.2 217.8,242.5 218.8,243.9 C219.9,245.2 221.7,247.5 222.6,247.6 C223.4,247.7 225.0,244.0 225.7,244.8 C226.4,245.6 227.5,251.7 228.1,254.1 C228.7,256.4 229.7,262.4 230.5,263.7 C231.3,265.1 233.8,264.6 234.6,264.8 C235.5,265.0 236.7,264.6 237.4,265.2 C238.1,265.8 239.0,268.4 240.0,269.3 C241.0,270.2 244.0,271.9 245.4,272.2 C246.8,272.6 249.6,272.1 251.0,272.2 C252.4,272.4 255.3,273.4 256.5,273.5 C257.8,273.7 260.4,274.0 261.2,273.5 C262.0,273.1 262.5,272.0 263.0,269.8 C263.6,267.6 265.0,259.5 265.8,255.9 C266.6,252.3 268.6,244.6 269.5,241.1 C270.5,237.6 272.3,231.3 273.2,228.1 C274.2,224.8 276.0,217.9 276.9,215.1 C277.9,212.3 279.9,207.6 280.7,205.8 C281.4,204.0 282.3,201.4 282.9,200.6 C283.5,199.8 284.6,199.2 285.3,199.3 C285.9,199.5 287.3,201.6 288.1,202.1 C288.9,202.7 290.4,203.3 291.8,203.6 C293.2,203.9 297.4,204.3 299.2,204.3 C301.1,204.4 305.1,203.8 306.6,204.0 C308.1,204.2 310.3,205.9 311.3,205.8 C312.2,205.8 313.4,204.1 314.1,203.6 C314.7,203.1 316.3,202.1 316.8,202.1 C317.4,202.2 318.1,202.8 318.7,204.0 C319.3,205.1 320.7,209.1 321.5,211.4 C322.3,213.7 324.3,220.8 325.0,222.5 C325.7,224.3 326.1,224.8 326.7,225.3 C327.3,225.8 329.2,227.0 330.0,226.6 C330.8,226.3 332.4,224.2 333.2,222.5 C333.9,220.9 335.3,215.3 336.0,213.3 C336.7,211.2 338.1,207.0 338.8,205.8 C339.5,204.7 340.9,203.9 341.5,204.0 C342.2,204.1 343.2,205.1 343.8,206.8 C344.3,208.4 345.5,213.8 346.2,217.0 C346.8,220.1 348.3,228.3 349.0,231.8 C349.7,235.3 351.0,242.2 351.7,244.8 C352.4,247.3 353.7,251.1 354.5,252.2 C355.3,253.4 357.2,253.8 358.2,254.1 C359.3,254.3 361.9,254.8 362.9,254.4 C363.8,254.1 364.8,252.6 365.7,251.3 C366.5,250.0 368.3,245.7 369.4,243.9 C370.4,242.0 373.0,237.8 374.0,236.4 C375.1,235.1 376.9,233.4 377.7,232.7 C378.5,232.1 379.9,231.1 380.5,231.4 C381.1,231.8 381.9,233.4 382.4,235.5 C382.8,237.6 383.7,245.0 384.2,248.5 C384.7,252.0 385.9,260.3 386.4,263.3 C387.0,266.4 388.1,271.5 388.8,272.9 C389.6,274.2 391.6,274.2 392.6,274.2 C393.5,274.2 395.3,273.9 396.3,272.9 C397.2,271.8 399.1,267.3 400.0,265.8 C400.9,264.3 402.8,261.4 403.7,260.6 C404.6,259.9 406.4,259.5 407.4,259.9 C408.4,260.3 410.7,263.0 412.1,263.6 C413.5,264.2 416.6,264.7 418.6,264.9 C420.5,265.1 426.0,265.4 427.8,264.9 C429.7,264.4 432.0,261.3 433.4,260.6 C434.8,259.9 437.7,259.5 439.0,259.3 C440.2,259.1 442.6,258.4 443.6,259.0 C444.6,259.5 446.4,262.8 447.3,264.0 C448.2,265.2 450.0,267.7 451.0,268.6 C452.1,269.5 454.2,270.6 455.7,271.0 C457.2,271.4 460.8,271.8 463.1,271.8 C465.4,271.8 471.9,271.2 474.2,271.0 C476.5,270.8 480.3,270.1 481.6,269.9 C483.0,269.7 484.3,268.7 485.0,269.2 C485.6,269.6 486.4,271.1 486.8,273.2 C487.3,275.4 488.2,283.0 488.7,286.2 C489.1,289.5 490.1,296.7 490.5,299.2 C491.0,301.8 492.2,305.7 492.4,306.6 L492.4,306.6 C492.6,306.2 493.6,305.1 494.2,302.9 C494.9,300.7 496.7,291.6 497.4,289.1 C498.1,286.5 499.2,283.6 499.9,282.6 C500.5,281.5 502.2,280.8 503.0,280.7 C503.8,280.6 505.4,281.2 506.2,281.6 C506.9,282.1 508.5,283.7 509.1,284.4 C509.8,285.2 511.1,287.2 511.4,287.6" stroke="#55A868" stroke-linecap="round" opacity="0.8"/>
<path d="M89.6,251.9 C89.8,251.8 90.1,250.4 90.6,251.0 C91.0,251.6 92.7,255.5 93.3,256.5 C94.0,257.6 95.3,258.6 96.1,259.3 C96.9,260.0 98.9,261.1 99.8,262.1 C100.8,263.1 102.6,266.4 103.6,267.3 C104.5,268.2 106.2,268.3 107.3,269.2 C108.3,270.0 110.5,272.6 111.9,274.2 C113.3,275.7 117.0,279.7 118.4,281.6 C119.8,283.4 122.1,287.6 123.0,289.0 C124.0,290.4 125.1,292.1 125.8,292.7 C126.5,293.3 127.9,293.8 128.6,293.6 C129.3,293.5 130.5,293.2 131.4,291.8 C132.3,290.4 134.7,285.2 136.0,282.5 C137.3,279.8 140.6,272.2 141.6,270.5 C142.5,268.8 143.0,270.0 143.7,268.9 C144.4,267.8 146.5,264.0 147.4,261.5 C148.3,258.9 150.2,251.7 151.1,248.5 C152.1,245.3 153.9,238.8 154.8,235.5 C155.8,232.3 157.6,226.2 158.6,222.5 C159.5,218.8 161.5,209.3 162.3,205.8 C163.1,202.4 164.5,196.7 165.0,194.7 C165.6,192.7 166.4,190.2 166.9,189.5 C167.4,188.8 168.3,188.5 168.8,189.1 C169.2,189.8 170.0,193.7 170.6,194.7 C171.2,195.7 172.6,197.3 173.4,197.5 C174.2,197.7 175.9,196.7 177.1,196.2 C178.3,195.6 181.4,193.9 182.7,193.2 C183.9,192.5 186.3,191.1 187.3,190.6 C188.3,190.1 189.5,189.0 190.5,189.1 C191.4,189.3 193.6,191.4 194.7,191.9 C195.8,192.4 198.4,192.9 199.4,193.2 C200.3,193.6 201.3,193.8 202.2,194.7 C203.0,195.6 204.7,198.2 205.9,200.3 C207.0,202.4 210.3,209.8 211.4,211.4 C212.6,213.0 214.2,212.1 215.1,213.3 C216.1,214.4 217.9,219.3 218.8,220.7 C219.8,222.1 221.7,224.2 222.6,224.4 C223.4,224.6 224.6,221.6 225.3,222.5 C226.0,223.5 227.4,229.3 228.1,231.8 C228.8,234.4 230.1,241.6 230.9,242.9 C231.7,244.3 233.8,242.2 234.6,242.6 C235.4,242.9 236.7,244.9 237.4,245.7 C238.1,246.6 239.2,248.7 240.0,249.4 C240.8,250.1 242.3,251.2 243.6,251.3 C244.8,251.4 248.4,250.4 250.0,250.4 C251.7,250.3 255.1,250.9 256.5,250.9 C257.9,250.9 260.4,250.9 261.2,250.4 C262.0,249.8 262.5,249.0 263.0,246.6 C263.6,244.3 265.0,235.5 265.8,231.8 C266.6,228.1 268.6,220.7 269.5,217.0 C270.4,213.3 272.1,205.1 272.9,202.1 C273.7,199.1 275.4,194.2 276.0,192.8 C276.6,191.5 277.4,190.8 277.9,191.0 C278.3,191.2 279.2,192.6 279.7,194.7 C280.3,196.8 281.8,204.4 282.5,207.7 C283.2,210.9 284.6,218.1 285.3,220.7 C286.0,223.2 287.3,226.9 288.1,228.1 C288.9,229.3 290.4,229.9 291.8,230.3 C293.2,230.7 297.5,231.4 299.2,231.4 C301.0,231.5 304.2,230.6 305.7,230.9 C307.2,231.1 310.3,233.4 311.3,233.3 C312.3,233.2 313.0,231.8 313.7,229.9 C314.4,228.1 316.1,222.1 316.8,218.8 C317.6,215.6 318.9,207.2 319.6,204.0 C320.3,200.7 321.8,194.4 322.4,192.8 C323.0,191.3 323.6,191.2 324.3,191.4 C324.9,191.5 326.9,193.9 327.6,194.3 C328.4,194.7 329.7,195.1 330.4,194.7 C331.1,194.3 332.6,191.7 333.2,191.4 C333.8,191.0 334.6,191.0 335.0,191.9 C335.5,192.8 336.3,195.5 336.9,198.4 C337.5,201.3 338.9,210.7 339.7,215.1 C340.5,219.5 342.5,228.6 343.4,233.7 C344.3,238.8 346.4,251.7 347.1,255.9 C347.8,260.2 348.4,264.1 349.0,267.7 C349.5,271.2 351.0,280.9 351.7,284.4 C352.4,287.8 353.8,293.6 354.5,295.5 C355.2,297.4 356.4,298.6 357.3,299.2 C358.2,299.9 361.0,300.9 361.9,300.7 C362.9,300.5 363.9,298.9 364.7,297.4 C365.5,295.8 367.5,290.2 368.4,288.1 C369.4,286.0 371.1,282.3 372.2,280.7 C373.2,279.0 375.7,276.2 376.8,275.1 C377.8,274.0 379.9,271.8 380.5,271.8 C381.2,271.8 381.6,273.1 382.0,275.1 C382.4,277.1 383.3,284.6 383.8,288.1 C384.4,291.6 385.4,299.8 386.1,302.9 C386.7,306.1 387.9,311.7 388.8,313.1 C389.8,314.5 392.3,314.2 393.5,314.1 C394.6,313.9 397.1,313.2 398.1,312.2 C399.2,311.2 400.9,306.7 401.8,305.7 C402.8,304.7 404.5,304.3 405.5,304.4 C406.6,304.5 409.1,305.6 410.0,306.3 C410.9,306.9 411.7,309.0 413.0,309.4 C414.3,309.8 418.6,309.4 420.4,309.4 C422.3,309.4 426.3,309.9 427.8,309.4 C429.3,309.0 431.3,306.5 432.5,305.7 C433.6,304.9 435.8,303.6 437.1,303.3 C438.4,302.9 441.5,302.5 442.7,302.9 C443.8,303.3 445.5,305.6 446.4,306.6 C447.3,307.7 448.9,310.7 450.1,311.3 C451.3,311.9 454.0,311.4 455.7,311.3 C457.3,311.2 461.2,310.7 463.1,310.3 C464.9,310.0 468.6,308.8 470.5,308.5 C472.4,308.2 476.3,308.1 477.9,308.1 C479.5,308.1 482.3,308.9 483.5,308.5 C484.6,308.1 486.5,305.9 487.2,304.8 C487.9,303.6 488.6,301.5 489.1,299.2 C489.5,296.9 490.6,289.3 490.9,286.2 C491.3,283.1 491.5,278.0 491.9,274.2 C492.2,270.4 493.3,259.8 493.7,255.7 C494.2,251.5 495.1,243.7 495.6,240.8 C496.1,237.9 496.9,234.0 497.4,232.5 C498.0,231.0 499.4,229.4 500.2,228.8 C501.0,228.1 503.0,227.5 503.9,227.5 C504.9,227.4 506.7,227.6 507.6,228.2 C508.6,228.8 510.9,231.4 511.4,231.9" stroke="#C44E52" stroke-linecap="round" opacity="0.8"/>
</g>
<text transform="translate(20.9,251.2) rotate(-90)" text-anchor="middle" class="l"><tspan class="m" letter-spacing="0.32">pitch</tspan> (deg)</text>
<clipPath id="c2"><rect x="69.1" y="352.4" width="463.2" height="142.3"/></clipPath>
<rect x="69.1" y="352.4" width="463.2" height="142.3" fill="#EAEAF2"/>
<path d="M89.6,352.4 V494.7 M142.7,352.4 V494.7 M195.8,352.4 V494.7 M248.9,352.4 V494.7 M302.0,352.4 V494.7 M355.1,352.4 V494.7 M408.2,352.4 V494.7 M461.3,352.4 V494.7 M514.4,352.4 V494.7 M69.1,387.4 H532.3 M69.1,423.7 H532.3 M69.1,460.1 H532.3" stroke="#fff" stroke-width="1.33" fill="none"/>
<text x="55.6" y="392.15" text-anchor="end" class="t">100</text>
<text x="55.6" y="428.45" text-anchor="end" class="t">0</text>
<text x="55.6" y="464.85" text-anchor="end" class="t">−100</text>
<g clip-path="url(#c2)" fill="none" stroke-width="2.0" stroke-linejoin="round" stroke-linecap="butt">
<path d="M89.6,423.7 C91.4,423.7 100.0,424.1 103.6,424.2 C107.1,424.3 115.3,424.8 118.4,424.6 C121.5,424.4 126.3,422.8 128.6,422.7 C130.9,422.6 134.3,423.6 136.9,423.8 C139.6,424.1 146.9,424.6 149.9,424.8 C153.0,425.0 158.8,425.4 161.1,425.5 C163.5,425.5 167.4,424.4 168.6,425.1 C169.7,425.7 170.0,427.6 170.4,430.7 C170.8,433.7 171.5,444.6 171.9,449.2 C172.3,453.8 173.5,465.4 173.7,467.8 L173.7,467.8 C174.0,467.1 175.1,465.9 175.6,462.2 C176.1,458.5 176.9,442.0 177.5,438.1 C178.0,434.1 178.9,431.9 179.7,430.7 C180.4,429.4 182.5,428.5 183.4,427.9 C184.3,427.3 185.3,426.3 187.1,426.0 C189.0,425.7 195.2,425.7 198.2,425.5 C201.3,425.2 208.0,424.2 211.2,424.2 C214.5,424.1 221.2,425.0 224.2,425.1 C227.2,425.2 232.1,424.9 235.3,424.7 C238.6,424.5 248.0,423.8 250.0,423.6 C252.0,423.4 249.6,423.4 251.1,423.3 C252.7,423.2 259.5,422.8 262.3,422.7 C265.0,422.7 271.3,422.5 273.4,422.7 C275.5,422.9 277.9,423.6 279.0,424.2 C280.0,424.9 281.2,426.5 281.7,427.9 C282.3,429.3 282.8,429.6 283.0,435.3 C283.3,441.1 283.6,468.3 283.8,474.2 C284.0,480.1 284.2,480.9 284.5,482.6 C284.9,484.2 285.2,486.4 286.4,487.2 C287.5,488.0 291.7,488.5 293.8,488.7 C295.9,488.9 300.6,488.8 303.1,488.7 C305.5,488.6 311.7,488.4 313.3,488.1 C314.9,487.8 315.4,487.3 316.1,486.3 C316.8,485.2 318.3,483.6 318.8,479.8 C319.4,476.0 319.9,461.5 320.1,455.7 C320.4,449.9 320.6,436.9 320.9,433.4 C321.2,429.9 321.8,428.9 322.6,427.8 C323.3,426.8 325.9,425.4 327.2,425.0 C328.5,424.7 331.7,425.0 332.8,425.0 C333.8,425.1 334.9,425.1 335.5,425.2 C336.1,425.3 336.9,425.6 337.2,426.0 C337.5,426.4 338.0,428.2 338.1,428.5 L338.1,428.5 C338.2,429.9 338.4,432.5 338.7,440.0 C339.0,447.5 340.6,482.6 340.9,488.7 L340.9,488.7 C341.0,488.7 341.9,488.7 342.0,488.7 L342.3,358.3 C346.6,358.3 372.2,358.3 376.5,358.3 L376.5,488.7 C376.6,488.7 377.6,488.7 377.7,488.7 L377.7,358.3 C377.8,358.3 378.8,358.3 378.9,358.3 L378.9,488.7 C379.0,488.7 380.0,488.7 380.1,488.7 L380.1,358.3 C380.2,358.3 380.9,358.3 381.0,358.3 L381.0,488.7 C381.1,488.7 381.8,488.7 381.9,488.7 L381.9,358.3 C389.2,358.4 430.9,358.5 440.0,358.7 C449.1,358.9 451.2,359.5 455.0,359.6 C458.8,359.7 466.9,359.9 470.0,359.8 C473.1,359.7 478.2,359.1 480.0,358.9 C481.8,358.7 483.8,358.4 484.4,358.3 L484.8,488.7 C485.4,488.5 488.9,490.2 489.7,487.2 C490.5,484.2 490.9,471.2 491.2,464.9 C491.6,458.7 492.4,441.6 492.7,437.1 C493.1,432.6 493.5,430.3 494.0,428.8 C494.5,427.2 495.7,425.7 496.8,425.0 C497.8,424.4 501.0,423.6 502.4,423.4 C503.7,423.1 507.2,423.2 507.9,423.2" stroke="#000000" stroke-dasharray="7.4,3.2" opacity="0.56"/>
<path d="M89.6,423.3 C90.9,423.3 97.4,423.3 99.8,423.3 C102.3,423.2 106.8,423.1 109.1,422.9 C111.4,422.8 116.0,422.3 118.4,422.0 C120.8,421.6 126.3,420.1 128.6,420.1 C130.9,420.1 134.7,421.6 136.9,422.0 C139.2,422.3 144.6,422.7 146.2,422.9 C147.9,423.1 148.4,423.4 150.0,423.6 C151.6,423.8 157.0,424.5 159.3,424.7 C161.6,424.9 166.7,424.8 168.6,425.1 C170.4,425.4 172.7,426.9 174.1,426.9 C175.5,427.0 178.1,425.9 179.7,425.5 C181.3,425.0 184.8,423.9 187.1,423.6 C189.4,423.3 195.9,423.0 198.2,422.9 C200.6,422.8 203.6,422.9 205.7,422.9 C207.7,422.9 212.2,422.9 214.9,422.9 C217.7,422.8 224.9,422.5 227.9,422.3 C230.9,422.1 236.3,421.5 239.1,421.4 C241.8,421.2 247.1,421.0 250.0,421.0 C252.9,421.0 259.3,421.4 262.3,421.4 C265.2,421.4 271.2,421.0 273.4,420.9 C275.6,420.7 278.7,420.6 279.9,420.1 C281.1,419.6 282.5,420.9 283.0,416.8 C283.6,412.7 284.2,394.1 284.5,387.1 C284.9,380.1 285.5,364.7 285.6,361.1 C285.8,357.5 285.7,358.7 285.8,358.3 C285.9,357.9 286.4,358.3 286.5,358.3 L286.5,488.7 C287.4,488.7 293.0,488.7 293.9,488.7 L293.9,358.3 C294.0,358.3 294.9,358.3 295.0,358.3 L295.0,488.7 C295.9,488.7 301.3,488.7 302.2,488.7 L302.2,358.3 C303.3,358.3 310.2,358.3 311.4,358.3 L311.4,488.7 C311.6,488.7 312.9,488.7 313.1,488.7 L313.1,358.3 C313.4,358.3 314.8,357.9 315.1,358.5 C315.5,359.1 315.8,359.4 316.1,363.0 C316.4,366.6 317.2,380.8 317.6,387.1 C317.9,393.4 318.5,409.0 318.8,413.1 C319.2,417.1 319.9,418.5 320.7,419.6 C321.5,420.7 323.8,421.7 325.3,422.0 C326.9,422.3 331.4,422.3 332.8,422.0 C334.2,421.7 335.9,420.0 336.5,419.6 C337.1,419.2 337.1,420.4 337.4,418.6 C337.7,416.9 338.6,410.8 338.9,405.7 C339.3,400.6 339.9,383.2 340.2,377.8 C340.5,372.5 341.0,365.3 341.5,363.0 C342.0,360.7 343.1,359.9 343.9,359.3 C344.7,358.7 346.8,358.5 347.6,358.3 C348.4,358.2 350.1,358.3 350.4,358.3 L351.0,488.7 C354.1,488.7 372.9,488.7 376.0,488.7 L376.0,358.3 C376.1,358.3 376.9,358.3 377.0,358.3 L377.0,488.7 C377.1,488.7 377.9,488.7 378.0,488.7 L378.0,358.3 C378.1,358.3 378.9,358.3 379.0,358.3 L379.0,488.7 C379.1,488.7 379.7,488.7 379.8,488.7 L379.8,358.3 C380.5,358.3 385.0,358.3 385.7,358.3 L385.7,488.7 C386.0,488.7 387.9,488.7 388.2,488.7 L388.2,358.3 C395.4,358.3 438.8,358.3 446.0,358.3 L446.0,488.7 C446.2,488.7 447.5,488.7 447.7,488.7 L447.7,358.3 C449.2,358.3 458.3,358.3 459.8,358.3 L459.8,488.7 C461.2,488.6 468.1,487.6 470.8,487.6 C473.5,487.6 479.9,488.6 481.2,488.7 L481.2,358.3 C481.3,358.3 482.1,358.3 482.2,358.3 L482.2,488.7 C482.3,488.7 483.1,488.7 483.2,488.7 L483.2,358.3 C483.3,358.3 483.9,358.3 484.0,358.3 L484.0,488.7 C484.7,488.2 488.5,486.7 489.4,484.4 C490.2,482.1 490.5,475.3 490.9,470.5 C491.2,465.7 491.8,451.3 492.2,446.4 C492.5,441.5 493.1,434.0 493.5,431.5 C493.8,429.1 494.4,427.7 494.9,426.9 C495.5,426.1 496.6,425.3 497.7,425.0 C498.9,424.7 502.5,424.6 504.2,424.5 C506.0,424.4 510.7,424.5 511.6,424.5" stroke="#4C72B0" stroke-linecap="round" opacity="0.8"/>
<path d="M89.6,423.7 C90.7,423.8 96.2,424.3 98.0,424.6 C99.7,424.8 101.7,425.5 103.6,425.7 C105.4,425.9 110.5,426.0 112.8,426.1 C115.1,426.2 120.4,426.3 122.1,426.4 C123.8,426.6 125.4,427.3 126.7,427.2 C128.1,427.1 131.5,425.9 133.2,425.7 C135.0,425.5 138.6,425.8 140.7,425.7 C142.7,425.6 148.8,425.3 149.9,425.1 C151.1,424.9 149.1,424.3 150.0,424.2 C150.9,424.0 155.8,424.5 157.4,424.2 C159.0,423.8 161.7,422.2 163.0,421.4 C164.3,420.6 166.7,418.6 167.6,417.7 C168.6,416.7 169.7,414.7 170.4,414.0 C171.1,413.2 172.5,411.9 173.2,411.7 C173.9,411.6 175.2,412.5 176.0,413.0 C176.8,413.6 178.8,415.6 179.7,416.2 C180.6,416.8 182.5,417.7 183.4,418.0 C184.3,418.3 185.9,418.2 187.1,418.6 C188.3,419.0 191.0,420.7 192.7,421.0 C194.3,421.3 198.5,420.9 200.1,421.0 C201.7,421.1 203.8,421.4 205.7,421.8 C207.5,422.1 212.6,423.2 214.9,423.6 C217.3,424.0 222.4,424.3 224.2,424.7 C226.1,425.1 228.4,426.5 229.8,426.9 C231.2,427.4 233.7,428.2 235.3,428.4 C237.0,428.7 240.9,428.8 242.8,428.8 C244.6,428.8 247.6,428.4 250.0,428.1 C252.4,427.8 260.0,426.9 262.3,426.4 C264.5,426.0 266.4,424.8 267.8,424.2 C269.2,423.6 272.1,422.5 273.4,421.4 C274.7,420.4 277.0,417.6 278.0,415.9 C279.1,414.1 280.9,410.2 281.7,407.5 C282.6,404.8 283.8,397.5 284.5,394.5 C285.2,391.5 286.7,385.2 287.3,383.4 C288.0,381.6 288.7,380.6 289.7,380.2 C290.8,379.9 293.8,380.6 295.7,380.8 C297.6,381.0 303.0,381.6 304.9,381.5 C306.9,381.4 310.3,379.8 311.4,380.1 C312.6,380.3 313.6,381.6 314.2,383.4 C314.8,385.2 315.9,391.5 316.4,394.5 C317.0,397.5 318.2,404.8 318.8,407.5 C319.5,410.2 320.8,414.3 321.6,415.9 C322.4,417.4 324.2,419.6 325.3,420.1 C326.5,420.7 329.7,420.7 330.9,420.5 C332.1,420.3 333.8,419.6 334.6,418.6 C335.4,417.7 336.8,415.6 337.4,413.1 C338.0,410.5 338.7,401.9 339.3,398.2 C339.9,394.5 341.4,386.4 342.1,383.4 C342.8,380.4 344.0,376.0 344.8,374.1 C345.7,372.3 347.5,369.9 348.6,368.6 C349.6,367.2 352.1,364.1 353.2,363.4 C354.2,362.6 355.6,362.7 356.9,362.6 C358.2,362.6 361.9,362.7 363.4,363.0 C364.9,363.3 367.3,364.3 369.0,364.8 C370.6,365.4 374.8,367.2 376.4,367.6 C378.0,368.1 380.9,368.9 381.9,368.6 C383.0,368.2 384.0,365.8 384.7,364.8 C385.4,363.9 386.7,361.4 387.5,360.8 C388.3,360.1 390.1,359.6 391.2,359.6 C392.4,359.7 395.2,360.6 396.8,361.1 C398.4,361.7 402.1,363.5 404.2,363.9 C406.3,364.3 411.2,364.4 413.5,364.5 C415.8,364.5 420.7,364.4 422.8,364.5 C424.8,364.6 427.9,365.0 430.0,365.2 C432.1,365.4 437.0,366.2 439.3,366.3 C441.6,366.5 446.2,366.5 448.6,366.3 C450.9,366.2 455.5,365.4 457.8,365.2 C460.1,365.1 464.8,365.1 467.1,365.2 C469.4,365.3 474.5,365.5 476.4,365.8 C478.2,366.0 480.9,367.1 481.9,367.1 C483.0,367.1 484.0,366.5 484.7,365.8 C485.4,365.0 486.9,362.1 487.5,361.1 C488.1,360.2 489.5,358.7 489.7,358.3 L490.3,488.7 C490.4,488.7 491.0,489.3 491.2,488.7 C491.5,488.0 491.9,486.5 492.2,483.5 C492.4,480.5 493.1,469.3 493.5,464.9 C493.8,460.5 494.5,451.4 494.9,448.2 C495.4,445.1 496.1,441.2 496.8,439.9 C497.5,438.5 499.3,437.8 500.5,437.5 C501.7,437.1 504.7,436.9 506.1,437.1 C507.5,437.3 510.9,438.7 511.6,439.0" stroke="#55A868" stroke-linecap="round" opacity="0.8"/>
<path d="M89.6,423.7 C90.4,423.6 94.4,423.2 96.1,423.3 C97.9,423.4 101.5,424.0 103.6,424.2 C105.6,424.4 110.5,424.6 112.8,424.6 C115.1,424.6 120.1,424.6 122.1,424.2 C124.1,423.8 127.2,421.6 128.6,421.4 C130.0,421.2 131.7,422.4 133.2,422.7 C134.7,423.1 138.6,423.8 140.7,424.2 C142.7,424.6 147.7,425.3 149.9,425.7 C152.1,426.0 156.9,427.2 158.3,427.0 C159.7,426.8 160.3,425.1 161.1,424.2 C161.9,423.3 164.1,421.2 164.8,419.6 C165.4,417.9 165.9,414.6 166.3,411.2 C166.6,407.9 167.2,397.1 167.6,392.7 C167.9,388.3 168.5,379.0 168.9,376.0 C169.2,373.0 169.8,369.7 170.3,368.6 C170.9,367.4 172.3,366.9 173.1,366.7 C173.9,366.5 176.0,366.3 176.8,366.7 C177.6,367.0 179.0,368.6 179.6,369.5 C180.2,370.4 181.0,373.6 181.5,374.1 C181.9,374.7 182.9,373.4 183.3,373.7 C183.8,374.1 184.5,375.4 185.0,376.9 C185.5,378.4 186.5,383.6 187.1,386.1 C187.7,388.7 189.2,394.2 189.9,397.3 C190.5,400.3 191.8,407.8 192.3,410.3 C192.8,412.7 193.5,416.0 194.2,416.7 C194.9,417.5 196.9,416.0 197.9,416.2 C198.8,416.3 200.7,417.4 201.9,418.0 C203.2,418.6 206.1,420.4 207.5,421.0 C208.9,421.7 211.0,422.8 213.1,423.2 C215.2,423.7 221.4,424.4 224.2,424.7 C227.0,425.0 232.1,425.5 235.3,425.5 C238.6,425.5 247.1,425.0 250.0,424.7 C252.9,424.4 256.3,423.6 258.6,423.3 C260.8,423.0 266.1,422.8 267.8,422.4 C269.6,421.9 271.5,420.7 272.5,419.6 C273.4,418.4 274.7,415.7 275.3,413.1 C275.8,410.4 276.7,402.6 277.1,398.2 C277.5,393.8 278.2,381.7 278.6,377.8 C279.0,374.0 279.8,369.4 280.4,367.6 C281.1,365.9 282.6,364.5 283.6,363.9 C284.6,363.3 286.7,362.7 288.2,362.6 C289.7,362.5 293.6,363.0 295.7,363.0 C297.7,363.0 302.6,362.7 304.9,362.6 C307.3,362.5 312.4,362.1 314.2,362.2 C316.1,362.4 318.7,363.2 319.8,363.9 C320.8,364.6 322.1,365.9 322.6,367.6 C323.1,369.4 323.5,374.2 323.9,377.8 C324.3,381.4 325.3,392.4 325.7,396.4 C326.2,400.3 327.0,407.2 327.6,409.4 C328.1,411.6 329.4,413.5 330.0,414.0 C330.5,414.5 331.4,414.1 331.8,413.1 C332.3,412.0 333.2,408.9 333.7,405.7 C334.2,402.4 335.1,391.5 335.5,387.1 C336.0,382.7 336.9,373.2 337.4,370.4 C337.9,367.6 338.7,365.5 339.3,364.8 C339.8,364.2 341.1,365.4 342.1,365.2 C343.0,365.0 345.7,363.9 346.7,363.4 C347.7,362.8 349.6,361.7 350.4,361.1 C351.2,360.6 352.7,359.3 353.2,358.9 C353.7,358.6 354.2,358.4 354.3,358.3 L354.8,488.7 C355.7,488.7 361.2,488.7 362.1,488.7 L362.1,358.3 C362.3,358.3 363.3,358.3 363.5,358.3 L363.5,488.7 C363.8,488.7 365.8,488.7 366.1,488.7 L366.1,358.3 C366.9,358.5 370.9,359.9 372.7,360.2 C374.4,360.5 378.7,360.9 380.1,360.8 C381.5,360.6 383.2,359.6 383.8,359.3 C384.4,358.9 384.9,358.1 385.1,357.9 L385.3,488.7 C385.4,488.7 385.9,488.7 386.0,488.7 L386.0,488.7 C386.6,483.6 389.8,453.3 390.3,448.2 L390.3,448.2 C390.5,448.5 391.7,449.8 392.2,450.5 C392.6,451.2 393.4,452.2 394.0,453.8 C394.6,455.4 396.1,460.3 396.8,463.1 C397.5,465.9 398.9,473.5 399.6,476.1 C400.3,478.6 401.4,482.3 402.4,483.5 C403.3,484.7 405.8,485.8 407.0,485.7 C408.2,485.6 410.4,483.3 411.6,482.6 C412.9,481.8 415.6,480.2 417.2,479.8 C418.8,479.3 423.0,478.8 424.6,478.8 C426.2,478.8 428.9,479.2 430.0,479.8 C431.1,480.4 432.8,482.8 433.7,483.5 C434.6,484.2 436.4,485.2 437.4,485.3 C438.5,485.5 441.0,485.0 442.1,484.4 C443.1,483.8 444.8,482.2 445.8,480.7 C446.7,479.2 448.6,474.6 449.5,472.4 C450.4,470.2 452.5,464.5 453.2,463.1 C453.9,461.6 454.5,461.1 455.0,460.9 C455.6,460.6 456.9,461.6 457.8,461.2 C458.8,460.9 461.3,458.2 462.5,457.9 C463.6,457.6 465.6,458.8 467.1,459.0 C468.6,459.2 472.9,459.5 474.5,459.7 C476.2,460.0 478.9,460.4 480.1,460.9 C481.3,461.3 483.1,463.6 483.8,463.5 C484.5,463.3 485.1,461.5 485.7,459.4 C486.2,457.2 487.3,449.6 487.9,446.4 C488.5,443.1 489.6,435.8 490.3,433.4 C490.9,431.0 492.3,428.2 493.1,426.9 C493.9,425.6 495.7,424.0 496.8,423.2 C497.8,422.4 500.3,420.9 501.4,420.4 C502.6,419.9 504.8,419.7 506.1,419.5 C507.3,419.2 510.9,418.7 511.6,418.6" stroke="#C44E52" stroke-linecap="round" opacity="0.8"/>
</g>
<text transform="translate(12.8,424.0) rotate(-90)" text-anchor="middle" class="l"><tspan class="m" letter-spacing="0.55">yaw</tspan> (deg)</text>
<text x="89.6" y="518.5" text-anchor="middle" class="t">0</text>
<text x="142.7" y="518.5" text-anchor="middle" class="t">200</text>
<text x="195.8" y="518.5" text-anchor="middle" class="t">400</text>
<text x="248.9" y="518.5" text-anchor="middle" class="t">600</text>
<text x="302.0" y="518.5" text-anchor="middle" class="t">800</text>
<text x="355.1" y="518.5" text-anchor="middle" class="t">1000</text>
<text x="408.2" y="518.5" text-anchor="middle" class="t">1200</text>
<text x="461.3" y="518.5" text-anchor="middle" class="t">1400</text>
<text x="514.4" y="518.5" text-anchor="middle" class="t">1600</text>
<text x="300.7" y="538.5" text-anchor="middle" class="l">index</text>
<rect x="389.4" y="55.1" width="136.1" height="87.5" rx="3" ry="3" fill="#EAEAF2" fill-opacity="0.8" stroke="#cccccc" stroke-opacity="0.8" stroke-width="1"/>
<path d="M395.3,66.1 H425.0" stroke="#000000" stroke-width="2.0" stroke-dasharray="7.4,3.2" opacity="0.56" fill="none"/>
<text x="436.6" y="71.5" class="t">ground_truth</text>
<path d="M395.3,87.3 H425.0" stroke="#4C72B0" stroke-width="2.0" opacity="0.8" fill="none"/>
<text x="436.6" y="92.7" class="t">Attention</text>
<path d="M395.3,108.2 H425.0" stroke="#55A868" stroke-width="2.0" opacity="0.8" fill="none"/>
<text x="436.6" y="113.6" class="t">BF</text>
<path d="M395.3,129.0 H425.0" stroke="#C44E52" stroke-width="2.0" opacity="0.8" fill="none"/>
<text x="436.6" y="134.4" class="t">baseline</text>
</svg>
</body></html>
